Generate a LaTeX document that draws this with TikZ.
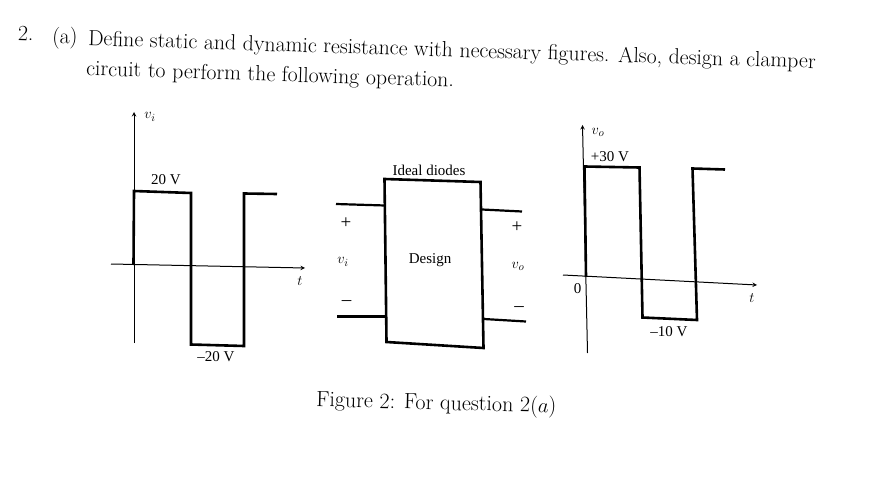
\documentclass[tikz,border=0pt]{standalone}
\usepackage{fontspec}
\newfontfamily\figfont{Liberation Serif}
\newcommand{\lbl}{\fontsize{15}{15}\selectfont\figfont}
\newcommand{\qtxt}{\fontsize{21.8}{21.8}\selectfont}
\begin{document}
\begin{tikzpicture}[x=1pt,y=-1pt,>=stealth,
		axisline/.style={line width=1pt,->},
		waveline/.style={line width=2.6pt,line join=miter},
		leadline/.style={line width=2.2pt},
		figlabel/.style={font=\lbl,inner sep=0pt},
		qline/.style={font=\qtxt,inner sep=0pt,anchor=west,rotate=-1.8},
		capline/.style={font=\fontsize{22}{22}\selectfont,inner sep=0pt,anchor=west,rotate=-1.5}]
		\useasboundingbox (0,0) rectangle (874,489);
		% question text
		\node[qline] (qnum) at (18,33) {2.};
		\node[qline] (qpart) at (52,38) {(a)};
		\node[qline] (qfirst) at (88,40) {Define static and dynamic resistance with necessary figures. Also, design a clamper};
		\node[qline] (qsecond) at (86,70) {circuit to perform the following operation.};
		% input waveform
		\draw[axisline] (134,343)--(134,112);
		\draw[axisline] (111,264)--(305,268);
		\draw[waveline] (133.5,265)--(134,191)--(191,193)--(191,344.5)--(244,346)--(244,193.5)--(277,194);
		\node[figlabel] (vi) at (150,117) {$v_i$};
		\node[figlabel] (vitop) at (166,180) {20 V};
		\node[figlabel] (vibot) at (216,357) {–20 V};
		\node[figlabel] (tleft) at (300,281) {$t$};
		% design box
		\coordinate (tl) at (384.5,179);
		\coordinate (tr) at (480.5,182);
		\coordinate (br) at (483.5,348);
		\coordinate (bl) at (386.5,342);
		\draw[line width=2.6pt] (tl)--(tr)--(br)--(bl)--cycle;
		\coordinate (ina) at (336,204);
		\coordinate (inb) at (385,205.5);
		\coordinate (inc) at (337,316.5);
		\coordinate (ind) at (386,316.5);
		\coordinate (outa) at (482,209.5);
		\coordinate (outb) at (522,211.5);
		\coordinate (outc) at (484,319);
		\coordinate (outd) at (526,321.5);
		\draw[leadline] (ina)--(inb);
		\draw[leadline] (inc)--(ind);
		\draw[leadline] (outa)--(outb);
		\draw[leadline] (outc)--(outd);
		\node[figlabel] (ideal) at (429,170) {Ideal diodes};
		\node[figlabel] (design) at (430,260) {Design};
		\node[figlabel,font=\fontsize{19}{19}\selectfont\figfont] (plusin) at (346,223) {+};
		\node[figlabel] (viin) at (343,262) {$v_i$};
		\node[figlabel,font=\fontsize{19}{19}\selectfont\figfont] (minusin) at (346.5,303) {–};
		\node[figlabel,font=\fontsize{19}{19}\selectfont\figfont] (plusout) at (517,227) {+};
		\node[figlabel] (voout) at (518,266) {$v_o$};
		\node[figlabel,font=\fontsize{19}{19}\selectfont\figfont] (minusout) at (519,309) {–};
		% output waveform
		\draw[axisline] (587.5,353)--(582.5,125);
		\draw[axisline] (563,275)--(757,285);
		\draw[waveline] (586,277)--(584.5,166.5)--(639.5,167.5)--(642.5,317.5)--(697,320)--(692.5,168.5)--(725,169.5);
		\node[figlabel] (vo) at (598,132) {$v_o$};
		\node[figlabel] (votop) at (610,157) {+30 V};
		\node[figlabel] (zero) at (577.5,289) {0};
		\node[figlabel] (vobot) at (669,332) {–10 V};
		\node[figlabel] (tright) at (752,298) {$t$};
		% caption
		\node[capline] (caption) at (316,401) {Figure 2: For question 2($a$)};
	\end{tikzpicture}
\end{document}
